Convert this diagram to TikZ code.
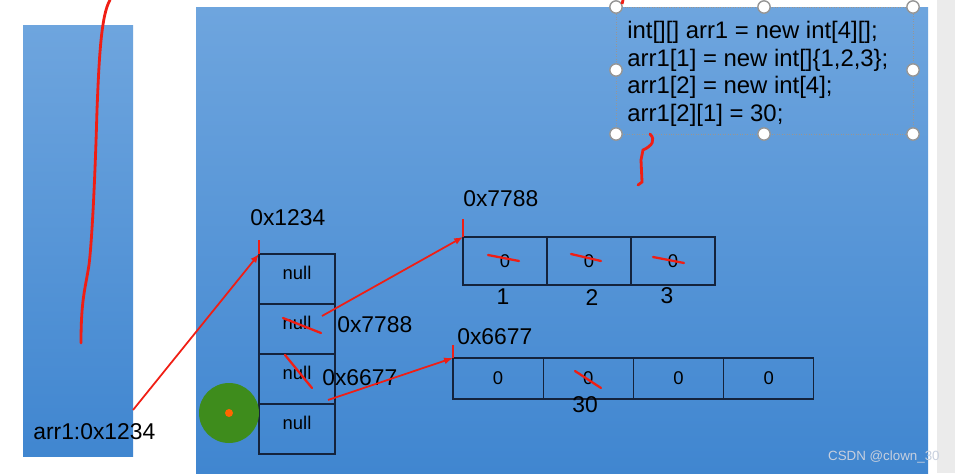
\documentclass[tikz,border=0pt]{standalone}
\usepackage{fontspec}
\setmainfont{Liberation Sans}
\usetikzlibrary{arrows.meta}
\usetikzlibrary{positioning}

\definecolor{paneltop}{RGB}{110,165,222}
\definecolor{panelbot}{RGB}{64,134,208}
\definecolor{cellline}{RGB}{20,35,60}
\definecolor{inkred}{RGB}{240,30,20}
\definecolor{blobgreen}{RGB}{62,140,28}
\definecolor{handle}{RGB}{150,150,150}
\definecolor{marktext}{RGB}{200,208,222}

\tikzset{
    cell/.style={draw=cellline, line width=0.7pt, inner sep=0pt, outer sep=0pt,
        font=\fontsize{10.5}{12}\selectfont},
    addr/.style={font=\fontsize{13}{15}\selectfont, inner sep=0pt},
    pointer/.style={inkred, line width=1pt, -{Latex[length=5pt,width=4pt]}},
    strike/.style={inkred, line width=1.3pt, line cap=round},
    grip/.style={circle, fill=white, draw=handle, line width=0.8pt,
        minimum size=7pt, inner sep=0pt}
}

\begin{document}
\begin{tikzpicture}[x=0.02cm, y=-0.02cm]
        \useasboundingbox (0, 0) rectangle (955, 473);
        \fill[white] (0, 0) rectangle (955, 473);
        \fill[black!8] (937, 0) rectangle (955, 473);

        % stack and heap
        \shade[top color=paneltop, bottom color=panelbot] (23, 26) rectangle (133, 456);
        \shade[top color=paneltop, bottom color=panelbot] (196, 8) rectangle (928, 473);

        % code box
        \draw[handle, line width=0.4pt, densely dotted] (616, 7) rectangle (913, 134);
        \node[anchor=north west, align=left, inner sep=0pt,
            font=\fontsize{13.6}{15.7}\selectfont] (code) at (627, 21)
            {int[][] arr1 = new int[4][];\\
             arr1[1] = new int[]\{1,2,3\};\\
             arr1[2] = new int[4];\\
             arr1[2][1] = 30;};
        \foreach \gx/\gy in {616/7, 764/7, 913/7, 616/70, 913/70, 616/134, 764/134, 913/134}
            \node[grip] at (\gx, \gy) {};

        % outer array
        \foreach \i in {1, ..., 4}
            \node[cell, minimum width=1.52cm, minimum height=1cm, text height=8pt, text depth=7pt]
                (o\i) at (297, 229 + 50*\i) {null};
        \node[addr, anchor=west] (o0) at (250, 218) {0x1234};
        \node[addr, anchor=west] (ref) at (33, 432) {arr1:0x1234};

        % arr1[1]
        \node[cell, minimum width=1.68cm, minimum height=0.96cm] (a1) at (505, 261) {0};
        \node[cell, minimum width=1.68cm, minimum height=0.96cm, right=0pt of a1] (a2) {0};
        \node[cell, minimum width=1.68cm, minimum height=0.96cm, right=0pt of a2] (a3) {0};
        \node[addr, anchor=west] (a0) at (463, 199) {0x7788};
        \node[addr] (n1) at (503, 297) {1};
        \node[addr] (n2) at (592, 298) {2};
        \node[addr] (n3) at (667, 296) {3};

        % arr1[2]
        \node[cell, minimum width=1.805cm, minimum height=0.82cm] (b1) at (498, 378.5) {0};
        \node[cell, minimum width=1.805cm, minimum height=0.82cm, right=0pt of b1] (b2) {0};
        \node[cell, minimum width=1.805cm, minimum height=0.82cm, right=0pt of b2] (b3) {0};
        \node[cell, minimum width=1.805cm, minimum height=0.82cm, right=0pt of b3] (b4) {0};
        \node[addr, anchor=west] (b0) at (457, 337) {0x6677};
        \node[addr] (v30) at (585, 405) {30};

        \node[addr, anchor=west] (p1) at (337, 325) {0x7788};
        \node[addr, anchor=west] (p2) at (322, 378) {0x6677};

        % pointers
        \coordinate (s0) at (133, 410);
        \coordinate (s1) at (322, 316);
        \coordinate (s2) at (328, 400);
        \draw[pointer] (s0) -- (o1.north west);
        \draw[pointer] (s1) -- (a1.north west);
        \draw[pointer] (s2) -- (b1.north west);

        % ink marks
        \draw[inkred, line width=1.2pt] (o1.north west) -- ++(0, -14);
        \draw[inkred, line width=1.2pt] (a1.north west) -- ++(0, -18);
        \draw[inkred, line width=1.2pt] (b1.north west) -- ++(0, -13);
        \draw[strike] (283, 318) -- (321, 333);
        \draw[strike] (285, 355) -- (312, 388);
        \draw[strike] (488, 255) -- (519, 261);
        \draw[strike] (571, 254) -- (601, 261);
        \draw[strike] (653, 257) -- (684, 263);
        \draw[strike] (575, 371) -- (601, 388);
        \draw[inkred, line width=1.6pt, line cap=round]
            (110, 0) .. controls (101, 15) and (99, 60) .. (97, 110)
            .. controls (95, 180) and (92, 240) .. (89, 265)
            .. controls (85, 290) and (81, 300) .. (81, 343);
        \draw[inkred, line width=1.6pt, line cap=round]
            (650, 134) .. controls (656, 140) and (652, 146) .. (643, 150)
            -- (641, 160) -- (642, 182) -- (638, 185);
        \draw[inkred, line width=1.6pt] (623, 0) -- (622, 4);

        % pointer on screen
        \fill[blobgreen] (229, 413) circle (30);
        \fill[orange!80!red] (229, 413) circle (4);

        \node[anchor=east, text=marktext, font=\fontsize{7.6}{9}\selectfont, inner sep=0pt]
            (mark) at (940, 457) {CSDN @clown\_30};
    \end{tikzpicture}
\end{document}
